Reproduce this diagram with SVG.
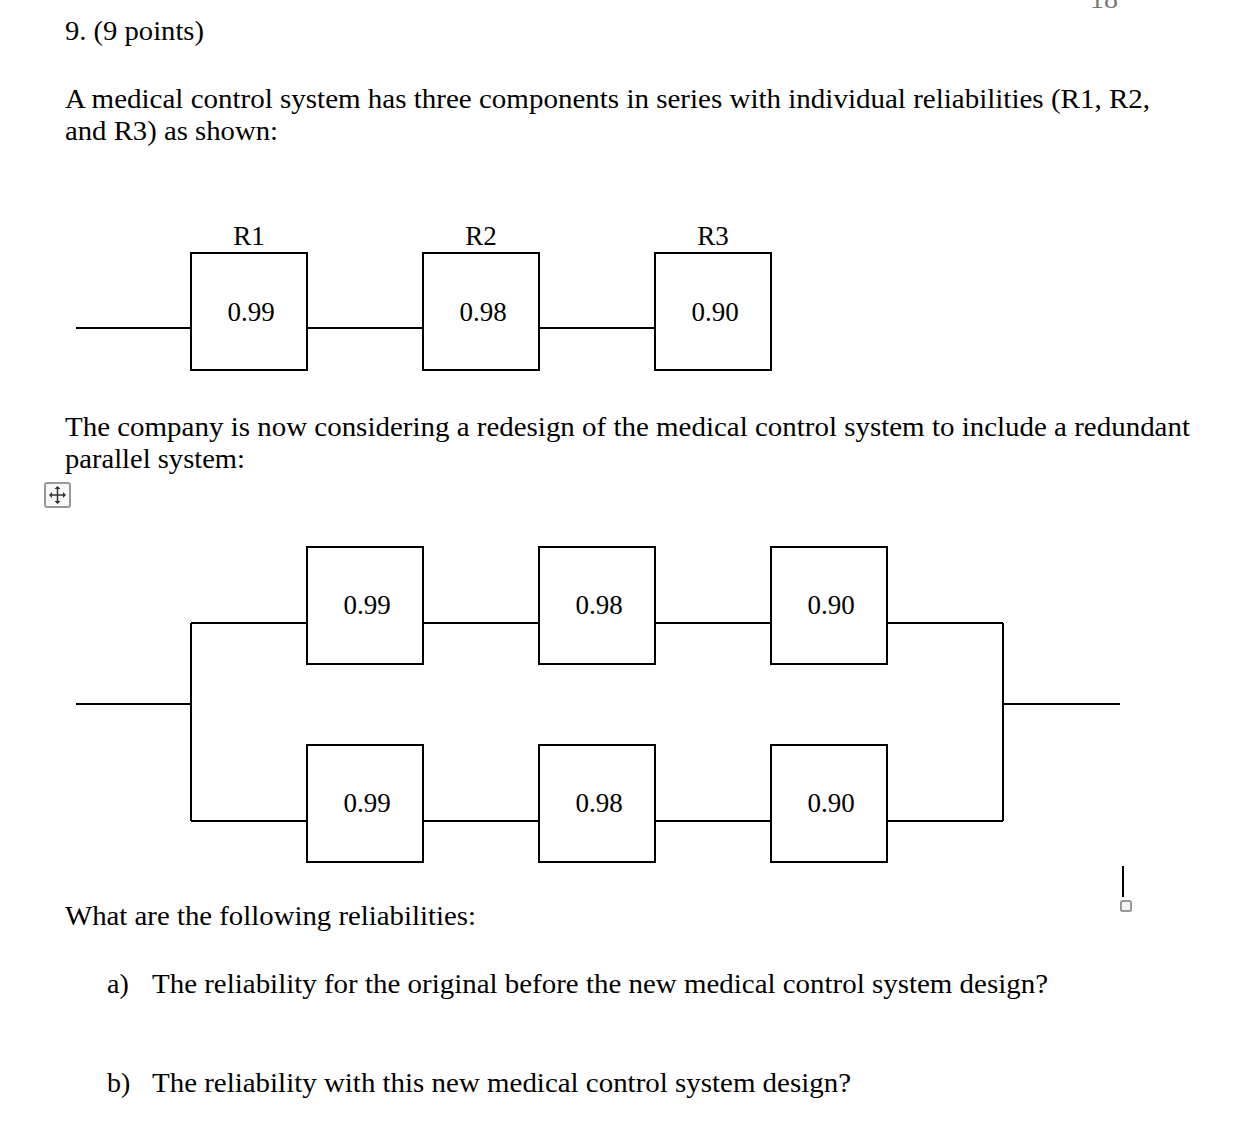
<svg xmlns="http://www.w3.org/2000/svg" width="1252" height="1134" viewBox="0 0 1252 1134">
<style>
text{font-family:"Liberation Serif","Times New Roman",serif;fill:#000}
.t{font-size:28px}
.v{font-size:27px;text-anchor:middle}
.box{fill:#fff;stroke:#000;stroke-width:2}
.ln{fill:none;stroke:#000;stroke-width:2}
</style>
<rect width="1252" height="1134" fill="#fff"/>
<text x="1090" y="8" class="t" style="fill:#777">18</text>
<text x="65" y="40" class="t" textLength="139" lengthAdjust="spacingAndGlyphs">9. (9 points)</text>
<text x="65" y="108" class="t" textLength="1085" lengthAdjust="spacingAndGlyphs">A medical control system has three components in series with individual reliabilities (R1, R2,</text>
<text x="65" y="140" class="t" textLength="213" lengthAdjust="spacingAndGlyphs">and R3) as shown:</text>
<g id="connectors">
<path class="ln" d="M76 328H191M307 328H423M539 328H655"/>
<path class="ln" d="M76 704H191M191 623V821M191 623H307M423 623H539M655 623H771M887 623H1003M191 821H307M423 821H539M655 821H771M887 821H1003M1003 623V821M1003 704H1120"/>
</g>
<g id="r1"><text x="249" y="245" class="v">R1</text><rect class="box" x="191" y="253" width="116" height="117"/><text x="251" y="321" class="v">0.99</text></g>
<g id="r2"><text x="481" y="245" class="v">R2</text><rect class="box" x="423" y="253" width="116" height="117"/><text x="483" y="321" class="v">0.98</text></g>
<g id="r3"><text x="713" y="245" class="v">R3</text><rect class="box" x="655" y="253" width="116" height="117"/><text x="715" y="321" class="v">0.90</text></g>
<text x="65" y="436" class="t" textLength="1125" lengthAdjust="spacingAndGlyphs">The company is now considering a redesign of the medical control system to include a redundant</text>
<text x="65" y="468" class="t" textLength="180" lengthAdjust="spacingAndGlyphs">parallel system:</text>
<g id="move-icon">
<rect x="45" y="483" width="25" height="24" fill="#f8f8f8" stroke="#999" stroke-width="2" rx="2"/>
<path d="M57.5 487V503M50 495H65" stroke="#333" stroke-width="1.5"/>
<path d="M57.5 486l-3 3h6zM57.5 504l-3-3h6zM49 495l3-3v6zM66 495l-3-3v6z" fill="#333"/>
</g>
<g id="a1"><rect class="box" x="307" y="547" width="116" height="117"/><text x="367" y="614" class="v">0.99</text></g>
<g id="a2"><rect class="box" x="539" y="547" width="116" height="117"/><text x="599" y="614" class="v">0.98</text></g>
<g id="a3"><rect class="box" x="771" y="547" width="116" height="117"/><text x="831" y="614" class="v">0.90</text></g>
<g id="b1"><rect class="box" x="307" y="745" width="116" height="117"/><text x="367" y="812" class="v">0.99</text></g>
<g id="b2"><rect class="box" x="539" y="745" width="116" height="117"/><text x="599" y="812" class="v">0.98</text></g>
<g id="b3"><rect class="box" x="771" y="745" width="116" height="117"/><text x="831" y="812" class="v">0.90</text></g>
<g id="handle">
<path d="M1123 866V897" stroke="#000" stroke-width="2"/>
<rect x="1121" y="901" width="10" height="10" fill="#f4f4f4" stroke="#999" stroke-width="2" rx="1.5"/>
</g>
<text x="65" y="925" class="t" textLength="411" lengthAdjust="spacingAndGlyphs">What are the following reliabilities:</text>
<text x="107" y="993" class="t">a)</text>
<text x="152" y="993" class="t" textLength="896" lengthAdjust="spacingAndGlyphs">The reliability for the original before the new medical control system design?</text>
<text x="107" y="1092" class="t">b)</text>
<text x="152" y="1092" class="t" textLength="699" lengthAdjust="spacingAndGlyphs">The reliability with this new medical control system design?</text>
</svg>
